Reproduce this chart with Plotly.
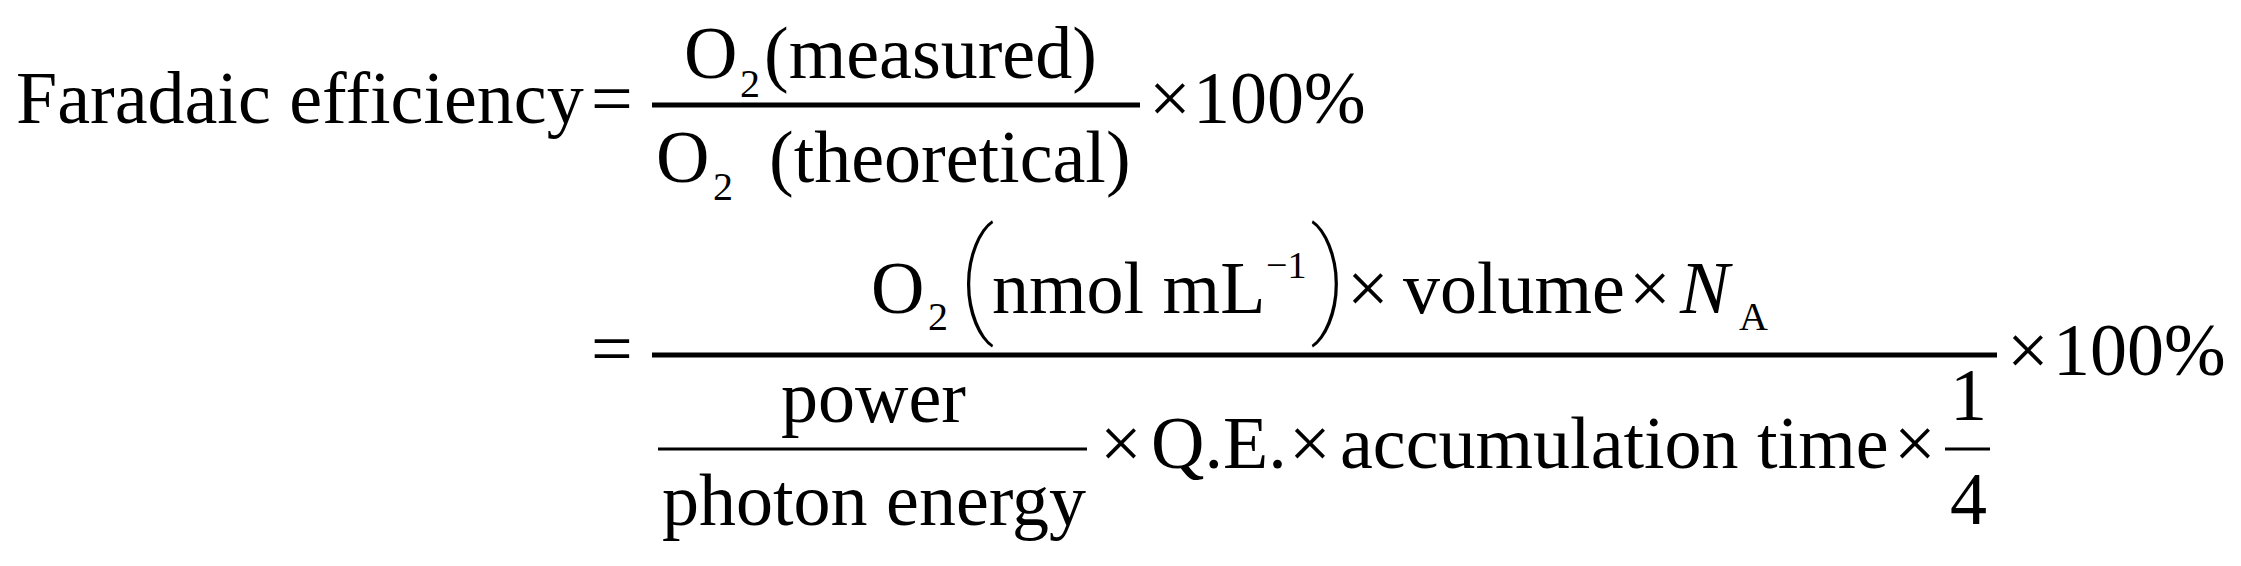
import plotly.graph_objects as go

# texto de la ecuación (trozos)
lhs = "Faradaic efficiency"
eq_sign = "="
times = "×"
percent = "100%"
num1 = ["O", "2", "(measured)"]
den1 = ["O", "2", "(theoretical)"]
num2 = ["O", "2", "(", "nmol mL", "−1", ")", "volume", "N", "A"]
den2_frac = ["power", "photon energy"]
den2 = ["Q.E.", "accumulation time"]
quarter = ["1", "4"]

W, H = 2241, 566
FONT = "Liberation Serif, Times New Roman, serif"
THIN = "Roboto, Liberation Serif, serif"
BIG = 74
SMALL = 40

fig = go.Figure()
anns = []
shapes = []


def put(txt, x, base, size=BIG, anchor="left", italic=False, family=FONT, weight=400):
    # y del centro de la caja de texto a partir de la línea base
    y = base - 0.3375 * size
    anns.append(dict(x=x, y=y, xref="x", yref="y", text=txt, showarrow=False,
                     xanchor=anchor, yanchor="middle", borderpad=0,
                     font=dict(family=family, size=size, color="black", weight=weight,
                               style="italic" if italic else "normal")))


def bar(x0, x1, y, w):
    shapes.append(dict(type="line", xref="x", yref="y", x0=x0, x1=x1, y0=y, y1=y,
                       line=dict(color="black", width=w)))


# primera línea
put(lhs, 15, 123)
put(eq_sign, 612, 123, anchor="center")
bar(652, 1140, 105, 5)
put(num1[0], 683, 78)
put(num1[1], 739, 97, SMALL)
put(num1[2], 763, 78)
put(den1[0], 655, 182)
put(den1[1], 712, 200, SMALL)
put(den1[2], 768, 182)
put(times, 1148, 123)
put(percent, 1192, 123)

# segunda línea
put(eq_sign, 612, 373, anchor="center")
bar(652, 1997, 355, 5)
put(num2[0], 870, 313)
put(num2[1], 927, 330, SMALL)
put(num2[2], 976, 318, 124, anchor="center", family=THIN, weight=100)
put(num2[3], 991, 313)
put(num2[4], 1265, 278, 38)
put(num2[5], 1329, 318, 124, anchor="center", family=THIN, weight=100)
put(times, 1346, 313)
put(num2[6], 1402, 313)
put(times, 1628, 313)
put(num2[7], 1678, 313, italic=True)
put(num2[8], 1738, 330, SMALL)

bar(658, 1087, 449, 3)
put(den2_frac[0], 873, 422, anchor="center")
put(den2_frac[1], 874, 525, anchor="center")
put(times, 1099, 468)
put(den2[0], 1150, 468)
put(times, 1288, 468)
put(den2[1], 1339, 468)
put(times, 1893, 468)
bar(1945, 1990, 449, 3)
put(quarter[0], 1968, 420, anchor="center")
put(quarter[1], 1968, 524, anchor="center")

put(times, 2006, 375)
put(percent, 2052, 375)

fig.update_layout(width=W, height=H, margin=dict(l=0, r=0, t=0, b=0),
                  paper_bgcolor="white", plot_bgcolor="white",
                  annotations=anns, shapes=shapes, showlegend=False)
fig.update_xaxes(range=[0, W], visible=False, fixedrange=True)
fig.update_yaxes(range=[H, 0], visible=False, fixedrange=True)

fig.write_html("out.html", config={"displayModeBar": False},
               post_script="document.body.style.margin='0';document.body.style.overflow='hidden';")
